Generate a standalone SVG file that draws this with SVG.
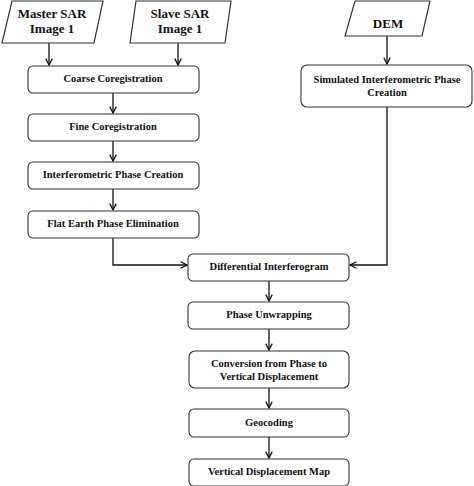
<svg xmlns="http://www.w3.org/2000/svg" width="474" height="486" viewBox="0 0 474 486">
<style>
.b{fill:#fff;stroke:#333;stroke-width:1.1}
.p{fill:#fff;stroke:#333;stroke-width:1.2}
.t{font-family:"Liberation Serif",serif;font-weight:bold;font-size:10.5px;fill:#111;text-anchor:middle}
.tl{font-family:"Liberation Serif",serif;font-weight:bold;font-size:13px;fill:#111;text-anchor:middle}
.c{fill:none;stroke:#111;stroke-width:1.3}
</style>
<defs>
<marker id="ah" viewBox="0 0 10 10" refX="9" refY="5" markerWidth="8" markerHeight="8" markerUnits="userSpaceOnUse" orient="auto">
<polyline points="1,1 9,5 1,9" fill="none" stroke="#111" stroke-width="1.6"/>
</marker>
</defs>
<g id="connectors">
<line class="c" x1="49" y1="43" x2="49" y2="65" marker-end="url(#ah)"/>
<line class="c" x1="178" y1="43" x2="178" y2="65" marker-end="url(#ah)"/>
<line class="c" x1="387" y1="36" x2="387" y2="64" marker-end="url(#ah)"/>
<line class="c" x1="113" y1="93" x2="113" y2="113" marker-end="url(#ah)"/>
<line class="c" x1="113" y1="141" x2="113" y2="161" marker-end="url(#ah)"/>
<line class="c" x1="113" y1="189" x2="113" y2="210" marker-end="url(#ah)"/>
<polyline class="c" points="113,238 113,265 187,265" marker-end="url(#ah)"/>
<polyline class="c" points="387,107 387,265 350,265" marker-end="url(#ah)"/>
<line class="c" x1="269" y1="281" x2="269" y2="301" marker-end="url(#ah)"/>
<line class="c" x1="269" y1="329" x2="269" y2="350" marker-end="url(#ah)"/>
<line class="c" x1="269" y1="388" x2="269" y2="408" marker-end="url(#ah)"/>
<line class="c" x1="269" y1="437" x2="269" y2="458" marker-end="url(#ah)"/>
</g>
<g id="master">
<polygon class="p" points="12,1 103,1 94,43 2,43"/>
<text class="tl" x="52" y="18">Master SAR</text>
<text class="tl" x="52" y="33">Image 1</text>
</g>
<g id="slave">
<polygon class="p" points="136,1 231,1 225,43 130,43"/>
<text class="tl" x="180" y="18">Slave SAR</text>
<text class="tl" x="180" y="33">Image 1</text>
</g>
<g id="dem">
<polygon class="p" points="355,1 430,1 422,36 345,36"/>
<text class="tl" x="388" y="28">DEM</text>
</g>
<g id="coarse">
<rect class="b" x="28" y="66" width="171" height="27" rx="5"/>
<text class="t" x="113" y="82">Coarse  Coregistration</text>
</g>
<g id="fine">
<rect class="b" x="28" y="114" width="171" height="27" rx="5"/>
<text class="t" x="113" y="130">Fine Coregistration</text>
</g>
<g id="ifp">
<rect class="b" x="28" y="162" width="171" height="27" rx="5"/>
<text class="t" x="113" y="178">Interferometric Phase Creation</text>
</g>
<g id="flat">
<rect class="b" x="28" y="211" width="171" height="27" rx="5"/>
<text class="t" x="113" y="227">Flat Earth Phase Elimination</text>
</g>
<g id="sim">
<rect class="b" x="301" y="65" width="171" height="42" rx="6"/>
<text class="t" x="387" y="83">Simulated Interferometric Phase</text>
<text class="t" x="387" y="96">Creation</text>
</g>
<g id="diff">
<rect class="b" x="188" y="254" width="161" height="27" rx="5"/>
<text class="t" x="269" y="270">Differential Interferogram</text>
</g>
<g id="unwrap">
<rect class="b" x="188" y="302" width="161" height="27" rx="5"/>
<text class="t" x="269" y="318">Phase Unwrapping</text>
</g>
<g id="conv">
<rect class="b" x="189" y="351" width="160" height="37" rx="6"/>
<text class="t" x="269" y="367">Conversion from Phase to</text>
<text class="t" x="269" y="380">Vertical Displacement</text>
</g>
<g id="geo">
<rect class="b" x="189" y="409" width="160" height="28" rx="5"/>
<text class="t" x="269" y="426">Geocoding</text>
</g>
<g id="vdm">
<rect class="b" x="189" y="459" width="160" height="27" rx="5"/>
<text class="t" x="269" y="475">Vertical Displacement  Map</text>
</g>
</svg>
